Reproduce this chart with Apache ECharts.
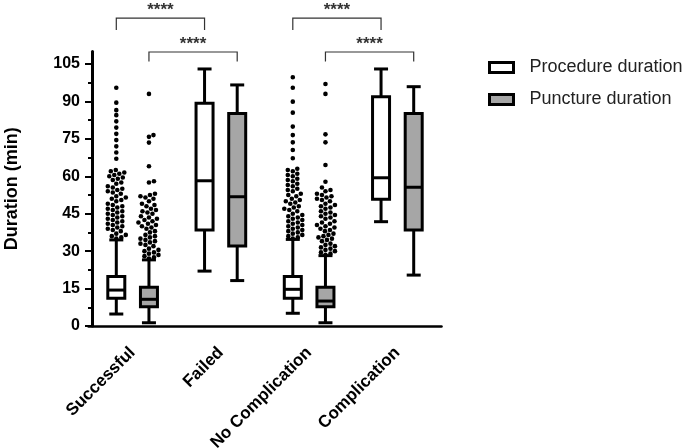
<!DOCTYPE html>
<html>
<head>
<meta charset="utf-8">
<script src="https://cdn.jsdelivr.net/npm/echarts@6/dist/echarts.min.js"></script>
<style>
  html, body { margin: 0; padding: 0; background: #fff; }
  #main { width: 685px; height: 448px; }
</style>
</head>
<body>
<div id="main"></div>
<script>
var categories = ['Successful', 'Failed', 'No Complication', 'Complication'];

// [min, Q1, median, Q3, max] per category
var procedureBox = [
  [4.8, 11.1, 14.4, 19.8, 34.5],
  [22, 38.5, 58.2, 89.3, 103],
  [5.1, 11.1, 14.7, 19.8, 34.7],
  [41.8, 50.8, 59.4, 91.9, 103]
];
var punctureBox = [
  [1.3, 7.7, 10.7, 15.5, 26.5],
  [18.2, 32.1, 51.8, 85.2, 96.6],
  [1.3, 7.7, 10, 15.5, 28.2],
  [20.4, 38.5, 55.6, 85.2, 95.9]
];

// outliers
var successProcOut = [95.5, 89.5, 86.5, 84.5, 82, 79.5, 77, 74.5, 72, 69.5, 67,
  62.5, 62, 61.5, 61, 60.5, 60, 59.5, 59, 58.5, 57.5, 57, 56, 55.5, 55, 54.5, 54, 53.5, 53, 52, 51.5,
  51, 50.5, 50, 49, 48.5, 48, 47.5, 47, 46.5, 46, 45.5, 45, 44.5, 44, 43.5, 43, 42.5, 42, 41.5, 41,
  40.5, 40, 39.5, 39, 38.5, 38, 37, 36.5, 36, 35.5, 35];
var successPuncOut = [93, 76.5, 75.8, 73.5, 64, 58, 57.5,
  53, 52.5, 52, 51.5, 51, 50, 49, 48.5, 48, 47, 46.5, 46, 45.5, 45, 44, 43.5, 43, 42.5, 42, 41.5,
  41, 40.5, 40, 39.5, 39, 38, 37.5, 36.5, 36, 35.5, 35, 34.5, 34, 33.5, 33, 32.5, 32, 31, 30.5, 30,
  29.5, 29, 28.5, 28, 27.5, 27];
var noCompProcOut = [99.7, 95.5, 89.9, 85.5, 79.9, 76.5, 73.6, 70.5, 67.2,
  63, 62.5, 62, 61, 60.5, 60, 59, 58.5, 58, 57, 56.5, 56, 55, 54.5, 54, 53, 52.5, 52, 51, 50.5, 50,
  49.5, 49, 48, 47.5, 47, 46.5, 46, 45, 44.5, 44, 43.5, 43, 42.5, 42, 41.5, 41, 40.5, 40, 39.5, 39,
  38.5, 38, 37.5, 37, 36.5, 36, 35.5, 35];
var noCompPuncOut = [97, 93, 76.8, 73.6, 64.5, 57.8,
  55.5, 54.5, 54, 53, 52.5, 52, 51.5, 51, 50.5, 50, 49, 48.5, 48, 47.5, 47, 46, 45.5, 45, 44.5, 44,
  43.5, 43, 42, 41.5, 41, 40.5, 40, 39.5, 39, 38.5, 38, 37, 36.5, 36, 35.5, 35, 34.5, 34, 33, 32.5,
  32, 31.5, 31, 30.5, 30, 29.5, 29, 28.5];

var yTicks = [0, 15, 30, 45, 60, 75, 90, 105];
var yMinorTicks = [7.5, 22.5, 37.5, 52.5, 67.5, 82.5, 97.5];

// significance brackets: from, to, group (-1 procedure, 1 puncture)
var sigFrom = [0, 0, 2, 2];
var sigTo = [1, 1, 3, 3];
var sigGroup = [-1, 1, -1, 1];
var sigText = ['****', '****', '****', '****'];

var FONT = '"Liberation Sans", Arial, sans-serif';
var SHIFT = 0.185; // box offset, fraction of band

function boxRender(side, fill) {
  return function (params, api) {
    var cat = api.value(0);
    var band = api.size([1, 0])[0];
    var cx = api.coord([cat, 0])[0] + side * band * SHIFT;
    var y = [1, 2, 3, 4, 5].map(function (d) { return api.coord([cat, api.value(d)])[1]; });
    var hw = 8.5, cw = 7;
    var ln = { stroke: '#000', lineWidth: 3 };
    return {
      type: 'group',
      children: [
        { type: 'line', shape: { x1: cx, y1: y[0], x2: cx, y2: y[1] }, style: ln },
        { type: 'line', shape: { x1: cx, y1: y[3], x2: cx, y2: y[4] }, style: ln },
        { type: 'line', shape: { x1: cx - cw, y1: y[0], x2: cx + cw, y2: y[0] }, style: ln },
        { type: 'line', shape: { x1: cx - cw, y1: y[4], x2: cx + cw, y2: y[4] }, style: ln },
        { type: 'rect', shape: { x: cx - hw, y: y[3], width: hw * 2, height: y[1] - y[3] },
          style: { fill: fill, stroke: '#000', lineWidth: 3 } },
        { type: 'line', shape: { x1: cx - hw, y1: y[2], x2: cx + hw, y2: y[2] }, style: ln }
      ]
    };
  };
}

// simple beeswarm: spread dots sideways so they do not overlap
function swarm(values, api) {
  var D = 4.8;
  var ys = values.map(function (v) { return api.coord([0, v])[1]; });
  var order = ys.map(function (y, i) { return i; }).sort(function (a, b) { return ys[b] - ys[a]; });
  var placed = [], off = [];
  order.forEach(function (i) {
    var dx = 0;
    for (var k = 0; k < 80; k++) {
      dx = (k % 2 ? 1 : -1) * Math.ceil(k / 2) * 0.5;
      var ok = placed.every(function (p) {
        return (p.x - dx) * (p.x - dx) + (p.y - ys[i]) * (p.y - ys[i]) >= D * D;
      });
      if (ok) break;
    }
    off[i] = dx;
    placed.push({ x: dx, y: ys[i] });
  });
  return off;
}

function dotRender(values, side) {
  var offsets = null;
  return function (params, api) {
    if (!offsets) offsets = swarm(values, api);
    var cat = api.value(0);
    var band = api.size([1, 0])[0];
    var p = api.coord([cat, api.value(1)]);
    return {
      type: 'circle',
      shape: { cx: p[0] + side * band * SHIFT + offsets[params.dataIndex], cy: p[1], r: 2.3 },
      style: { fill: '#000' }
    };
  };
}

function dotSeries(cat, values, side) {
  return {
    type: 'custom',
    name: 'dots',
    renderItem: dotRender(values, side),
    data: values.map(function (v) { return [cat, v]; }),
    z: 5
  };
}

function bracketRender(params, api) {
  var i = params.dataIndex;
  var side = sigGroup[i];
  var band = api.size([1, 0])[0];
  var level = side < 0 ? 123.4 : 109.8;
  var legEnd = side < 0 ? 118.6 : 106;
  var x1 = api.coord([sigFrom[i], 0])[0] + side * band * SHIFT;
  var x2 = api.coord([sigTo[i], 0])[0] + side * band * SHIFT;
  var yl = api.coord([0, level])[1];
  var ye = api.coord([0, legEnd])[1];
  return {
    type: 'group',
    children: [
      { type: 'polyline', shape: { points: [[x1, ye], [x1, yl], [x2, yl], [x2, ye]] },
        style: { stroke: '#333', lineWidth: 1.2, fill: null } },
      { type: 'text', style: { text: sigText[i], x: (x1 + x2) / 2, y: yl - 7.5, align: 'center',
        verticalAlign: 'middle', font: 'bold 17px ' + FONT, fill: '#333' } }
    ]
  };
}

var chart = echarts.init(document.getElementById('main'));
chart.setOption({
  animation: false,
  textStyle: { fontFamily: FONT },
  grid: { left: 88.5, right: 243.5, top: 51.5, bottom: 122, outerBoundsMode: 'none' },
  legend: {
    orient: 'vertical',
    left: 483,
    top: 53.5,
    itemWidth: 24,
    itemHeight: 10,
    itemGap: 14,
    selectedMode: false,
    textStyle: { fontSize: 18, color: '#222', padding: [0, 0, 0, 11], fontFamily: FONT },
    data: [
      { name: 'Procedure duration', icon: 'rect', itemStyle: { color: '#fff', borderColor: '#000', borderWidth: 3 } },
      { name: 'Puncture duration', icon: 'rect', itemStyle: { color: '#a6a6a6', borderColor: '#000', borderWidth: 3 } }
    ]
  },
  xAxis: {
    type: 'category',
    data: categories,
    axisLine: { lineStyle: { color: '#000', width: 2.5 } },
    axisTick: { alignWithLabel: true, length: 8, lineStyle: { color: '#000', width: 2.5 } },
    axisLabel: { rotate: 45, margin: 24, fontSize: 17, fontWeight: 'bold', color: '#000', interval: 0 },
    splitLine: { show: false }
  },
  yAxis: [{
    type: 'value',
    min: 0,
    max: 110,
    offset: -3.5,
    name: 'Duration (min)',
    nameLocation: 'middle',
    nameGap: 71,
    nameTextStyle: { fontSize: 18, fontWeight: 'bold', color: '#000' },
    axisLine: { show: true, lineStyle: { color: '#000', width: 3 } },
    axisTick: { show: true, length: 7, customValues: yTicks, lineStyle: { color: '#000', width: 2 } },
    axisLabel: { customValues: yTicks, margin: 12, fontSize: 16, fontWeight: 'bold', color: '#000' },
    splitLine: { show: false }
  }, {
    type: 'value',
    min: 0,
    max: 110,
    offset: -3.5,
    position: 'left',
    axisLine: { show: false },
    axisTick: { show: true, length: 4, customValues: yMinorTicks, lineStyle: { color: '#000', width: 2 } },
    axisLabel: { show: false },
    splitLine: { show: false }
  }],
  series: [
    {
      type: 'custom', name: 'Procedure duration',
      renderItem: boxRender(-1, '#fff'),
      itemStyle: { color: '#fff', borderColor: '#000', borderWidth: 3 },
      data: procedureBox.map(function (b, i) { return [i].concat(b); }),
      z: 3
    },
    {
      type: 'custom', name: 'Puncture duration',
      renderItem: boxRender(1, '#a6a6a6'),
      itemStyle: { color: '#a6a6a6', borderColor: '#000', borderWidth: 3 },
      data: punctureBox.map(function (b, i) { return [i].concat(b); }),
      z: 3
    },
    dotSeries(0, successProcOut, -1),
    dotSeries(0, successPuncOut, 1),
    dotSeries(2, noCompProcOut, -1),
    dotSeries(2, noCompPuncOut, 1),
    {
      type: 'custom',
      name: 'brackets',
      clip: false,
      renderItem: bracketRender,
      data: sigFrom.map(function (f, i) { return [f, sigTo[i], sigGroup[i]]; }),
      z: 6
    }
  ]
});
</script>
</body>
</html>
